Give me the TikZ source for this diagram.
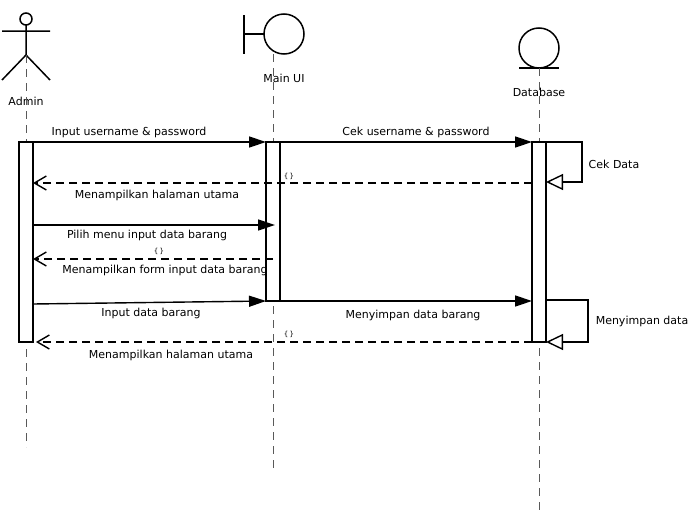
\documentclass[tikz,border=0pt]{standalone}
\usepackage{fontspec}
\setmainfont{DejaVu Sans}
\usetikzlibrary{arrows.meta,positioning}
\begin{document}
\begin{tikzpicture}[x=1pt,y=-1pt,
    lbl/.style={font=\fontsize{11}{13}\selectfont, inner sep=0pt},
    tiny/.style={font=\fontsize{7}{8}\selectfont, inner sep=0pt},
    fig/.style={line width=1.5pt},
    life/.style={gray!70!black, dash pattern=on 8pt off 6pt, line width=1pt},
    act/.style={draw, fill=white, line width=1.3pt},
    call/.style={line width=1.4pt, -{Triangle[length=17pt,width=11pt]}},
    ret/.style={line width=1.4pt, dash pattern=on 8pt off 5pt, -{Straight Barb[length=12pt,width=14pt]}},
    self/.style={line width=1.4pt, -{Triangle[open,length=17pt,width=16pt]}}
  ]
  \useasboundingbox (0,0) rectangle (688,514);
  % actors and lifelines
  \draw[fig] (26,19) circle (6);
  \draw[fig] (2,31) -- (50,31) (26,25) -- (26,55) (2,80) -- (26,55) -- (50,80);
  \node[lbl] (admin) at (26,101) {Admin};
  \draw[fig] (244,15) -- (244,54) (244,34) -- (264,34);
  \draw[fig] (284,34) circle (20);
  \node[lbl] (ui) at (284,78) {Main UI};
  \draw[fig] (539,48) circle (20);
  \draw[fig] (519,68) -- (559,68);
  \node[lbl] (db) at (539,92) {Database};
  \draw[life] (26,55) -- (26,447);
  \draw[life] (273,54) -- (273,470);
  \draw[life] (539,68) -- (539,510);

  % activations
  \node[act, minimum width=14pt, minimum height=200pt, inner sep=0pt] (aA) at (26,242) {};
  \node[act, minimum width=14pt, minimum height=159pt, inner sep=0pt] (aU) at (273,221.5) {};
  \node[act, minimum width=14pt, minimum height=200pt, inner sep=0pt] (aD) at (539,242) {};

  % messages
  \draw[call] (33,142) -- (266,142);
  \node[lbl] at (129,132) {Input username \& password};
  \draw[call] (280,142) -- (532,142);
  \node[lbl] at (416,132) {Cek username \& password};
  \draw[self] (546,142) -- (582,142) -- (582,182) -- (546,182);
  \node[lbl] at (614,164) {Cek Data};
  \draw[ret] (532,183) -- (33,183);
  \node[tiny] at (289,176) {\{\,\}};
  \node[lbl] at (157,195) {Menampilkan halaman utama};
  \draw[call] (33,225) -- (275,225);
  \node[lbl] at (147,235) {Pilih menu input data barang};
  \draw[ret] (273,259) -- (33,259);
  \node[tiny] at (159,251) {\{\,\}};
  \node[lbl] at (165,270) {Menampilkan form input data barang};
  \draw[call] (33,304) -- (266,301);
  \node[lbl] at (151,313) {Input data barang};
  \draw[call] (280,301) -- (532,301);
  \node[lbl] at (413,315) {Menyimpan data barang};
  \draw[self] (546,300) -- (588,300) -- (588,342) -- (546,342);
  \node[lbl] at (642,321) {Menyimpan data};
  \draw[ret] (532,342) -- (36,342);
  \node[tiny] at (289,334) {\{\,\}};
  \node[lbl] at (171,355) {Menampilkan halaman utama};
\end{tikzpicture}
\end{document}
